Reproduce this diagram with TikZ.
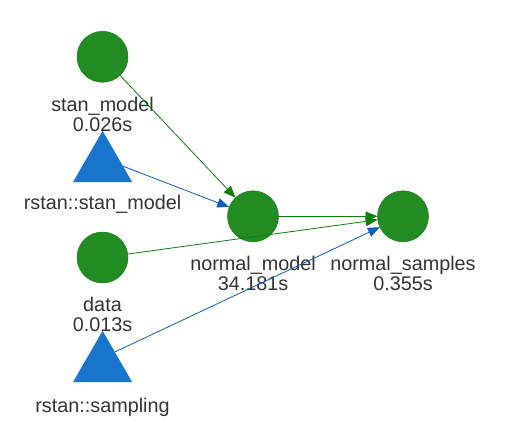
\documentclass[tikz,border=0pt]{standalone}
\usepackage{fontspec}
\setmainfont{Liberation Sans}
\usetikzlibrary{arrows.meta,shapes.geometric}
\definecolor{nodegreen}{HTML}{228B22}
\definecolor{nodeblue}{HTML}{1874CD}
\definecolor{edgegreen}{HTML}{0A7F0A}
\definecolor{edgeblue}{HTML}{0A5FBF}
\definecolor{txt}{HTML}{343434}
\begin{document}
\begin{tikzpicture}[x=1pt,y=-1pt,
  target/.style={circle,fill=nodegreen,draw=nodegreen!90!black,line width=0.5pt,minimum size=51pt,inner sep=0pt,outer sep=0pt},
  imported/.style={regular polygon,regular polygon sides=3,fill=nodeblue,minimum size=68.5pt,inner sep=0pt,outer sep=0pt},
  lbl/.style={text=txt,font=\fontsize{19.8}{20}\selectfont,align=center,inner sep=0pt,anchor=north},
  gedge/.style={draw=edgegreen,line width=0.8pt,-{Triangle[length=12pt,width=9.5pt]}},
  bedge/.style={draw=edgeblue,line width=0.8pt,-{Triangle[length=12pt,width=9.5pt]}}]
\useasboundingbox (0,0) rectangle (521,439);
% nodes
\node[target] (sm) at (102.5,56.8) {};
\node[imported] (rsm) at (102.6,165.1) {};
\node[target] (data) at (102.5,257.5) {};
\node[imported] (rsa) at (102.6,365.1) {};
\node[target] (nm) at (253,216.3) {};
\node[target] (ns) at (403,216.3) {};
% labels
\node[lbl] (smL) at (102.5,97) {stan\_model\\0.026s};
\node[lbl] (rsmL) at (102.5,195) {rstan::stan\_model};
\node[lbl] (dataL) at (102.5,297.3) {data\\0.013s};
\node[lbl] (rsaL) at (102.5,398) {rstan::sampling};
\node[lbl] (nmL) at (253,256.3) {normal\_model\\34.181s};
\node[lbl] (nsL) at (403,256.3) {normal\_samples\\0.355s};
% edges
\draw[gedge] (sm) -- (nm);
\draw[bedge] (rsm.-3) -- (nm);
\draw[gedge] (nm) -- (ns);
\draw[gedge] (data) -- (ns);
\draw[bedge] (rsa.47) -- (ns);
\end{tikzpicture}
\end{document}
